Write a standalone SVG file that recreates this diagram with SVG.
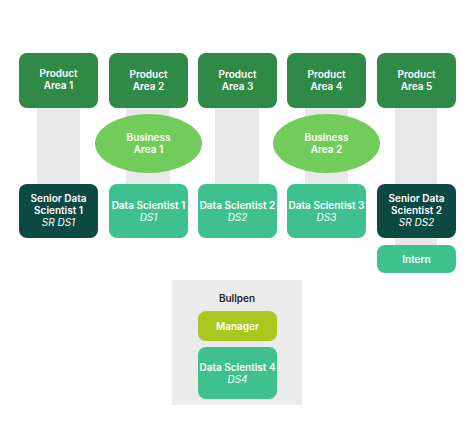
<svg xmlns="http://www.w3.org/2000/svg" width="474" height="428" viewBox="0 0 474 428">
<style>
.t{font-family:Inter,Roboto,"Liberation Sans",sans-serif;font-size:10px;font-weight:600;fill:#fff;text-anchor:middle}
.i{font-style:italic;font-weight:400}
.pa{fill:#2f8a48}
.ds{fill:#3ec18f}
.sr{fill:#0b4a43}
.ba{fill:#72cc5c}
.bar{fill:#e8e8e8}
</style>
<rect width="474" height="428" fill="#fff"/>
<g id="connectors">
<rect class="bar" x="37" y="106" width="43" height="80"/>
<rect class="bar" x="126" y="106" width="44" height="80"/>
<rect class="bar" x="215" y="106" width="44" height="80"/>
<rect class="bar" x="305" y="106" width="43" height="80"/>
<rect class="bar" x="395" y="106" width="42" height="142"/>
</g>
<g id="pa1"><rect class="pa" x="19" y="53" width="79" height="55" rx="8"/><text class="t" x="58.5" y="77">Product</text><text class="t" x="58.5" y="89">Area 1</text></g>
<g id="pa2"><rect class="pa" x="109" y="53" width="79" height="55" rx="8"/><text class="t" x="148.5" y="78">Product</text><text class="t" x="148.5" y="90">Area 2</text></g>
<g id="pa3"><rect class="pa" x="198" y="53" width="79" height="55" rx="8"/><text class="t" x="237.5" y="78">Product</text><text class="t" x="237.5" y="90">Area 3</text></g>
<g id="pa4"><rect class="pa" x="287" y="53" width="79" height="55" rx="8"/><text class="t" x="326.5" y="78">Product</text><text class="t" x="326.5" y="90">Area 4</text></g>
<g id="pa5"><rect class="pa" x="377" y="53" width="79" height="55" rx="8"/><text class="t" x="416.5" y="78">Product</text><text class="t" x="416.5" y="90">Area 5</text></g>
<g id="ba1"><ellipse class="ba" cx="148.5" cy="143.5" rx="53.5" ry="29.5"/><text class="t" x="148.5" y="141">Business</text><text class="t" x="148.5" y="153">Area 1</text></g>
<g id="ba2"><ellipse class="ba" cx="326.5" cy="143.5" rx="53.5" ry="29.5"/><text class="t" x="326.5" y="141">Business</text><text class="t" x="326.5" y="153">Area 2</text></g>
<g id="srds1"><rect class="sr" x="19" y="184" width="79" height="54" rx="8"/><text class="t" x="58.5" y="202">Senior Data</text><text class="t" x="58.5" y="214">Scientist 1</text><text class="t i" x="58.5" y="226">SR DS1</text></g>
<g id="ds1"><rect class="ds" x="109" y="184" width="79" height="54" rx="8"/><text class="t" x="148.5" y="209">Data Scientist 1</text><text class="t i" x="148.5" y="221">DS1</text></g>
<g id="ds2"><rect class="ds" x="198" y="184" width="79" height="54" rx="8"/><text class="t" x="237.5" y="209">Data Scientist 2</text><text class="t i" x="237.5" y="221">DS2</text></g>
<g id="ds3"><rect class="ds" x="287" y="184" width="79" height="54" rx="8"/><text class="t" x="326.5" y="209">Data Scientist 3</text><text class="t i" x="326.5" y="221">DS3</text></g>
<g id="srds2"><rect class="sr" x="377" y="184" width="79" height="54" rx="8"/><text class="t" x="416.5" y="202">Senior Data</text><text class="t" x="416.5" y="214">Scientist 2</text><text class="t i" x="416.5" y="226">SR DS2</text></g>
<g id="intern"><rect class="ds" x="377" y="245" width="79" height="28" rx="8"/><text class="t" x="416.5" y="262.5">Intern</text></g>
<g id="bullpen"><rect x="172" y="280" width="130" height="125" fill="#ebebeb"/><text class="t" x="237" y="302" style="fill:#222">Bullpen</text></g>
<g id="manager"><rect x="198" y="311" width="79" height="30" rx="8" fill="#a9c71c"/><text class="t" x="237.5" y="329.5">Manager</text></g>
<g id="ds4"><rect class="ds" x="198" y="347" width="79" height="52" rx="8"/><text class="t" x="237.5" y="371">Data Scientist 4</text><text class="t i" x="237.5" y="383">DS4</text></g>
</svg>
